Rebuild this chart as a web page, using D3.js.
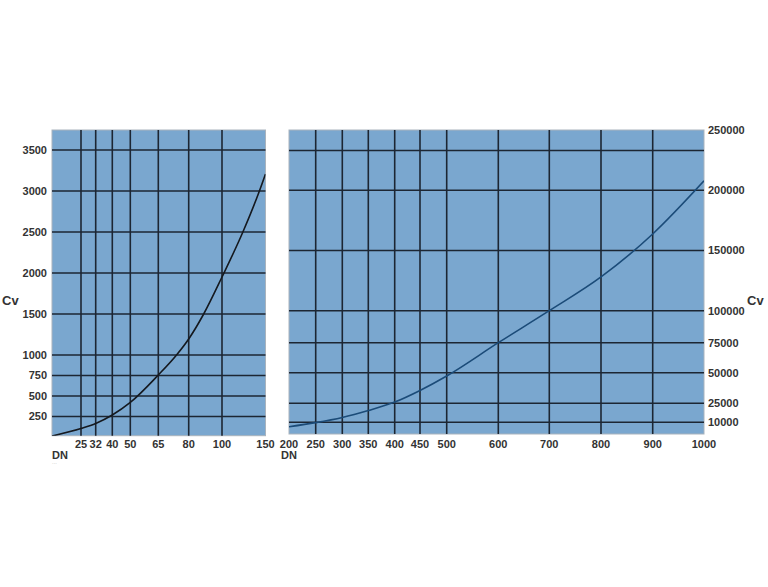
<!DOCTYPE html>
<html>
<head>
<meta charset="utf-8">
<script src="https://cdn.jsdelivr.net/npm/d3@7"></script>
<style>
  body { margin: 0; background: #fff; }
  svg { display: block; }
  text { font-family: "Liberation Sans", Arial, sans-serif; font-weight: bold; fill: #333; }
</style>
</head>
<body>
<svg id="chart"></svg>
<script>
// left chart: small sizes
const leftTicksX = [25, 32, 40, 50, 65, 80, 100, 150];
const leftTicksY = [250, 500, 750, 1000, 1500, 2000, 2500, 3000, 3500];
const leftDN = [15, 25, 32, 40, 50, 65, 74, 80, 89, 100, 124, 143, 150];
const leftCv = [12, 104, 165, 268, 421, 756, 1000, 1195, 1500, 1951, 2500, 3000, 3207];

// right chart: large sizes
const rightTicksX = [200, 250, 300, 350, 400, 450, 500, 600, 700, 800, 900, 1000];
const rightTicksY = [10000, 25000, 50000, 75000, 100000, 150000, 200000, 250000];
const rightGridY = [10000, 25000, 50000, 75000, 100000, 150000, 200000, 233000];
const rightDN = [200, 250, 300, 350, 400, 450, 500, 600, 700, 800, 900, 1000];
const rightCv = [6200, 9700, 13800, 19300, 26000, 35500, 47300, 75000, 100000, 128000, 163700, 207800];

const svgWidth = 768, svgHeight = 587;
const svg = d3.select('#chart')
    .attr("width", svgWidth)
    .attr("height", svgHeight);

const fillColor = "#7aa7cf", gridColor = "#1c2633";

// scales (the DN axes are not uniform, so piecewise)
const xL = d3.scaleLinear()
    .domain([15, 25, 32, 40, 50, 65, 80, 100, 150])
    .range([52, 81, 95.7, 112.3, 130.3, 158.3, 188.7, 222, 265.5]);
const yL = d3.scaleLinear().domain([0, 3750]).range([437, 129.5]);

const xR = d3.scaleLinear()
    .domain([200, 250, 300, 350, 400, 450, 500, 600, 700, 800, 900, 1000])
    .range([289, 315.7, 342.3, 368.3, 394.7, 420, 446.7, 498.3, 549.3, 601, 652.7, 704]);
const yR = d3.scaleLinear()
    .domain([0, 10000, 25000, 50000, 75000, 100000, 250000])
    .range([434, 422.3, 403.3, 372.7, 342.7, 310.7, 130]);

function panel(id, x0, x1, y0, y1, gx, gy, xs, ys, dn, cv, lineColor) {
    const g = svg.append("g");
    g.append("clipPath").attr("id", id)
        .append("rect").attr("x", x0).attr("y", y0).attr("width", x1 - x0).attr("height", y1 - y0);

    g.append("rect")
        .attr("x", x0).attr("y", y0)
        .attr("width", x1 - x0).attr("height", y1 - y0)
        .attr("fill", fillColor)
        .attr("stroke", "#a9b3bd")
        .attr("stroke-width", 1);

    g.selectAll(".vg").data(gx).enter().append("line")
        .attr("x1", d => xs(d)).attr("x2", d => xs(d))
        .attr("y1", y0).attr("y2", y1)
        .attr("stroke", gridColor).attr("stroke-width", 1.6);

    g.selectAll(".hg").data(gy).enter().append("line")
        .attr("x1", x0).attr("x2", x1)
        .attr("y1", d => ys(d)).attr("y2", d => ys(d))
        .attr("stroke", gridColor).attr("stroke-width", 1.6);

    const line = d3.line()
        .x(function (d, i) { return xs(d); })
        .y(function (d, i) { return ys(cv[i]); })
        .curve(d3.curveMonotoneX);

    g.append("path")
        .datum(dn)
        .attr("clip-path", "url(#" + id + ")")
        .attr("fill", "none")
        .attr("stroke", lineColor)
        .attr("stroke-width", 1.6)
        .attr("stroke-linejoin", "round")
        .attr("d", line);
    return g;
}

panel("clipL", 52, 265.5, 130, 435.7, [25, 32, 40, 50, 65, 80, 100], leftTicksY, xL, yL, leftDN, leftCv, "#15191f");
panel("clipR", 289, 704, 130, 434, rightTicksX.slice(1, -1), rightGridY, xR, yR, rightDN, rightCv, "#1b4b78");

// tick labels
svg.append("g").selectAll("text").data(leftTicksX).enter().append("text")
    .attr("x", d => xL(d)).attr("y", 447.5)
    .attr("text-anchor", "middle").attr("font-size", 11)
    .text(d => d);

svg.append("g").selectAll("text").data(leftTicksY).enter().append("text")
    .attr("x", 47).attr("y", d => yL(d)).attr("dy", "0.36em")
    .attr("text-anchor", "end").attr("font-size", 11)
    .text(d => d);

svg.append("g").selectAll("text").data(rightTicksX).enter().append("text")
    .attr("x", d => xR(d)).attr("y", 447.5)
    .attr("text-anchor", "middle").attr("font-size", 11)
    .text(d => d);

svg.append("g").selectAll("text").data(rightTicksY).enter().append("text")
    .attr("x", 708).attr("y", d => yR(d)).attr("dy", "0.36em")
    .attr("text-anchor", "start").attr("font-size", 11)
    .text(d => d);

// axis titles
svg.append("text").attr("x", 2).attr("y", 305).attr("font-size", 13).text("Cv");
svg.append("text").attr("x", 747).attr("y", 305).attr("font-size", 13).text("Cv");
svg.append("text").attr("x", 52).attr("y", 458.5).attr("font-size", 11).text("DN");
svg.append("text").attr("x", 281).attr("y", 458.5).attr("font-size", 11).text("DN");
svg.append("text").attr("x", 52).attr("y", 464).attr("font-size", 6)
    .style("fill", "#bbb").style("font-weight", "normal").text("...");
</script>
</body>
</html>
